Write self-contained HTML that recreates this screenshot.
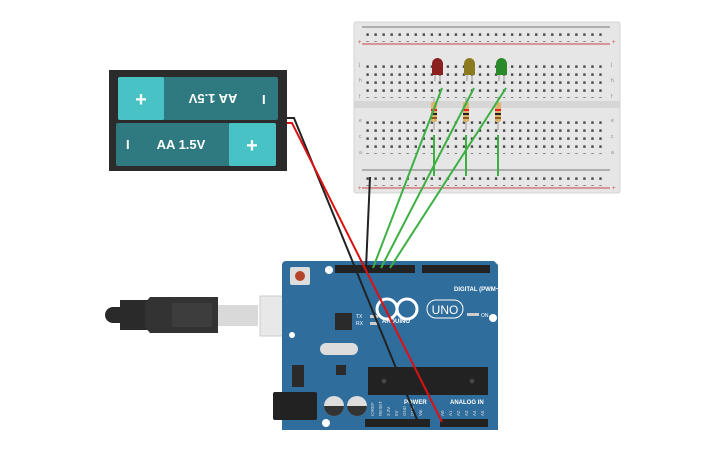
<!DOCTYPE html>
<html><head><style>
html,body{margin:0;padding:0;background:#fff;width:725px;height:453px;overflow:hidden}
svg{display:block}
text{font-family:"Liberation Sans",sans-serif}
</style></head><body>
<svg width="725" height="453" viewBox="0 0 725 453">
<defs>
<pattern id="holes" x="365" y="0" width="8.03" height="8" patternUnits="userSpaceOnUse">
<rect x="1.4" y="1.4" width="2.4" height="2.4" fill="#444"/>
</pattern>
</defs>
<!-- Breadboard -->
<rect x="354" y="22" width="266" height="171" rx="2" fill="#e6e6e6" stroke="#d4d4d4"/>
<line x1="362" y1="27" x2="610" y2="27" stroke="#777" stroke-width="1"/>
<line x1="362" y1="44" x2="610" y2="44" stroke="#c44" stroke-width="1"/>
<rect x="366" y="30" width="240" height="12" fill="url(#holes)"/>
<rect x="366" y="60" width="240" height="38" fill="url(#holes)"/>
<rect x="354" y="101" width="266" height="7" fill="#d6d6d6"/>
<rect x="366" y="116" width="240" height="38" fill="url(#holes)"/>
<line x1="362" y1="170" x2="610" y2="170" stroke="#777" stroke-width="1"/>
<line x1="362" y1="188" x2="610" y2="188" stroke="#c44" stroke-width="1"/>
<rect x="366" y="174" width="240" height="12" fill="url(#holes)"/>
<text x="358" y="44" font-size="6" fill="#c44">+</text><text x="612" y="44" font-size="6" fill="#c44">+</text>
<text x="358" y="190" font-size="6" fill="#c44">+</text><text x="612" y="190" font-size="6" fill="#c44">+</text>
<g font-size="5" fill="#888"><text x="359" y="66">j</text><text x="359" y="82">h</text><text x="359" y="98">f</text><text x="359" y="122">e</text><text x="359" y="138">c</text><text x="359" y="154">a</text>
<text x="611" y="66">j</text><text x="611" y="82">h</text><text x="611" y="98">f</text><text x="611" y="122">e</text><text x="611" y="138">c</text><text x="611" y="154">a</text></g>
<!-- LEDs -->
<g>
<path d="M432 75 v-11 a5.5 6 0 0 1 11 0 v11z" fill="#8b2020"/>
<path d="M464 75 v-11 a5.5 6 0 0 1 11 0 v11z" fill="#8b7a20"/>
<path d="M496 75 v-11 a5.5 6 0 0 1 11 0 v11z" fill="#2a8a2a"/>
<g stroke="#999" stroke-width="1"><line x1="435" y1="75" x2="435" y2="81"/><line x1="440" y1="75" x2="440" y2="81"/><line x1="467" y1="75" x2="467" y2="81"/><line x1="472" y1="75" x2="472" y2="81"/><line x1="499" y1="75" x2="499" y2="81"/><line x1="504" y1="75" x2="504" y2="81"/></g>
</g>
<!-- resistors -->
<g>
<g stroke="#999"><line x1="434" y1="97" x2="434" y2="130"/><line x1="466" y1="97" x2="466" y2="130"/><line x1="498" y1="97" x2="498" y2="130"/></g>
<rect x="431" y="102" width="6" height="20" rx="2" fill="#d9b56e"/>
<rect x="463" y="102" width="6" height="20" rx="2" fill="#d9b56e"/>
<rect x="495" y="102" width="6" height="20" rx="2" fill="#d9b56e"/>
<g fill="#e22"><rect x="431" y="109" width="6" height="2"/><rect x="463" y="109" width="6" height="2"/><rect x="495" y="109" width="6" height="2"/></g>
<g fill="#222"><rect x="431" y="113" width="6" height="2"/><rect x="463" y="113" width="6" height="2"/><rect x="495" y="113" width="6" height="2"/></g>
<g fill="#8a5a20"><rect x="431" y="117" width="6" height="2"/><rect x="463" y="117" width="6" height="2"/><rect x="495" y="117" width="6" height="2"/></g>
</g>
<!-- green vertical wires -->
<g stroke="#3cb043" stroke-width="2"><line x1="434" y1="135" x2="434" y2="176"/><line x1="466" y1="135" x2="466" y2="176"/><line x1="498" y1="135" x2="498" y2="176"/></g>

<!-- Battery -->
<rect x="109" y="70" width="178" height="101" fill="#2b2b2b"/>
<rect x="118" y="77" width="160" height="43" rx="2" fill="#2e7a80"/>
<rect x="118" y="77" width="46" height="43" rx="2" fill="#48c2c5"/>
<text x="141" y="106" font-size="20" fill="#fff" text-anchor="middle" font-weight="bold">+</text>
<text x="213" y="104" font-size="13" fill="#fff" text-anchor="middle" font-weight="bold" transform="rotate(180 213 99)">AA 1.5V</text>
<text x="262" y="104" font-size="13" fill="#fff" font-weight="bold">I</text>
<rect x="116" y="123" width="160" height="43" rx="2" fill="#2e7a80"/>
<rect x="229" y="123" width="47" height="43" rx="2" fill="#48c2c5"/>
<text x="252" y="152" font-size="20" fill="#fff" text-anchor="middle" font-weight="bold">+</text>
<text x="181" y="149" font-size="13" fill="#fff" text-anchor="middle" font-weight="bold">AA 1.5V</text>
<text x="126" y="149" font-size="13" fill="#fff" font-weight="bold">I</text>

<!-- USB cable -->
<rect x="105" y="307" width="40" height="16" rx="8" fill="#2a2a2a"/>
<rect x="120" y="300" width="30" height="30" fill="#2a2a2a"/>
<path d="M150 297 h68 v36 h-68 l-5 -6 v-24z" fill="#333"/>
<rect x="172" y="303" width="40" height="24" fill="#3d3d3d"/>
<rect x="218" y="305" width="40" height="21" fill="#d9d9d9"/>
<rect x="260" y="296" width="53" height="40" fill="#e8e8e8" stroke="#ccc"/>

<!-- Arduino -->
<path d="M282 265 a4 4 0 0 1 4 -4 h208 l4 4 v165 h-216z" fill="#2f6d9d"/>
<rect x="290" y="267" width="20" height="18" rx="2" fill="#ddd"/>
<circle cx="300" cy="276" r="5" fill="#b5452a"/>
<rect x="335" y="265" width="80" height="8" fill="#222"/>
<rect x="422" y="265" width="68" height="8" fill="#222"/>
<text x="454" y="291" font-size="6" fill="#fff" font-weight="bold">DIGITAL (PWM~)</text>
<circle cx="387" cy="309" r="10" fill="none" stroke="#fff" stroke-width="3"/>
<circle cx="407" cy="309" r="10" fill="none" stroke="#fff" stroke-width="3"/>
<text x="382" y="323" font-size="6" fill="#fff" font-weight="bold">ARDUINO</text>
<rect x="427" y="300" width="36" height="18" rx="9" fill="none" stroke="#fff"/>
<text x="445" y="314" font-size="12" fill="#fff" text-anchor="middle">UNO</text>
<rect x="467" y="313" width="12" height="3" fill="#ccc"/>
<text x="481" y="317" font-size="5" fill="#fff">ON</text>
<rect x="335" y="313" width="17" height="17" fill="#2a2a2a"/>
<rect x="370" y="315" width="8" height="3" fill="#ccc"/><rect x="370" y="322" width="8" height="3" fill="#ccc"/>
<text x="356" y="318" font-size="5" fill="#fff">TX</text><text x="356" y="325" font-size="5" fill="#fff">RX</text>
<rect x="320" y="343" width="38" height="12" rx="6" fill="#ddd"/>
<rect x="368" y="367" width="120" height="28" fill="#222"/>
<circle cx="384" cy="381" r="2.5" fill="#444"/><circle cx="472" cy="381" r="2.5" fill="#444"/>
<rect x="336" y="365" width="10" height="10" fill="#2a2a2a"/>
<rect x="292" y="365" width="12" height="22" fill="#2a2a2a"/>
<rect x="273" y="392" width="44" height="28" rx="2" fill="#222"/>
<circle cx="334" cy="406" r="10" fill="#ddd"/><path d="M324 406 a10 10 0 0 0 20 0z" fill="#333"/>
<circle cx="357" cy="406" r="10" fill="#ddd"/><path d="M347 406 a10 10 0 0 0 20 0z" fill="#333"/>
<text x="404" y="404" font-size="6" fill="#fff" font-weight="bold">POWER</text>
<text x="450" y="404" font-size="6" fill="#fff" font-weight="bold">ANALOG IN</text>
<g font-size="4.5" fill="#ddd"><text x="0" y="0" transform="translate(374,416) rotate(-90)">IOREF</text><text transform="translate(382,416) rotate(-90)">RESET</text><text transform="translate(390,416) rotate(-90)">3.3V</text><text transform="translate(398,416) rotate(-90)">5V</text><text transform="translate(406,416) rotate(-90)">GND</text><text transform="translate(414,416) rotate(-90)">GND</text><text transform="translate(422,416) rotate(-90)">Vin</text>
<text transform="translate(444,416) rotate(-90)">A0</text><text transform="translate(452,416) rotate(-90)">A1</text><text transform="translate(460,416) rotate(-90)">A2</text><text transform="translate(468,416) rotate(-90)">A3</text><text transform="translate(476,416) rotate(-90)">A4</text><text transform="translate(484,416) rotate(-90)">A5</text></g>
<rect x="365" y="419" width="65" height="8" fill="#222"/>
<rect x="440" y="419" width="48" height="8" fill="#222"/>
<circle cx="329" cy="270" r="4" fill="#fff"/><circle cx="493" cy="318" r="4" fill="#fff"/><circle cx="326" cy="423" r="4" fill="#fff"/><circle cx="292" cy="335" r="3" fill="#fff"/>

<!-- wires -->
<g stroke-width="2" fill="none">
<line x1="442" y1="88" x2="373" y2="268" stroke="#3cb043"/>
<line x1="474" y1="88" x2="381" y2="268" stroke="#3cb043"/>
<line x1="506" y1="88" x2="390" y2="268" stroke="#3cb043"/>
<line x1="370" y1="177" x2="366" y2="268" stroke="#222"/>
<polyline points="287,118 294,118 418,422" stroke="#222"/>
<polyline points="287,123 292,123 442,422" stroke="#d11"/>
</g>
</svg>
</body></html>
